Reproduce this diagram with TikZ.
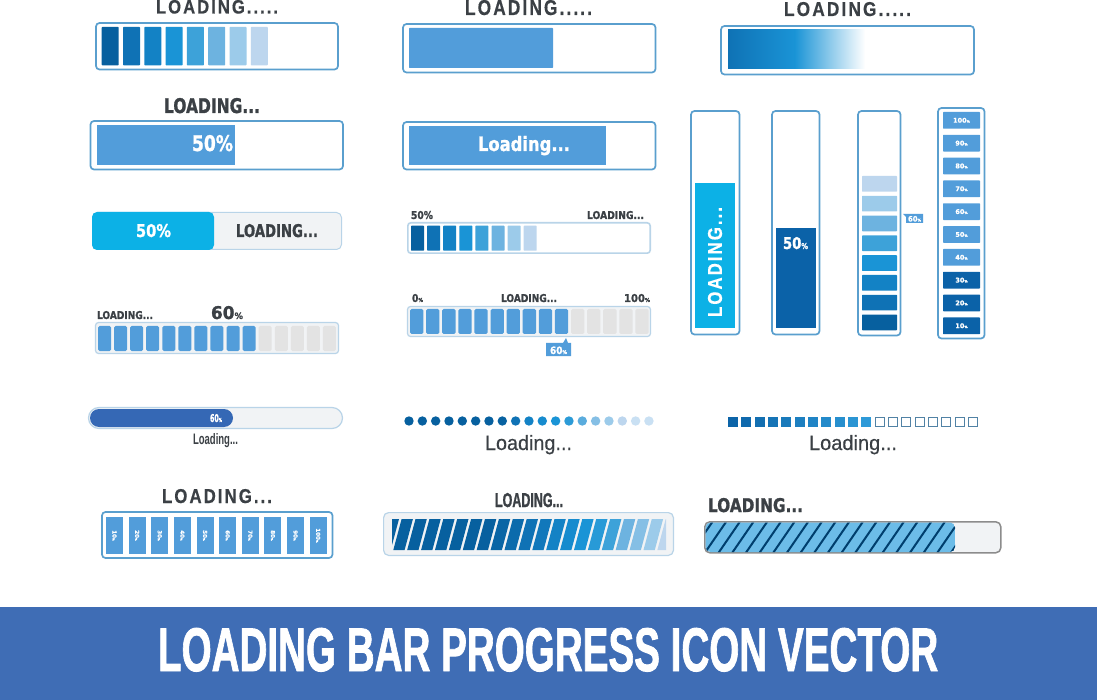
\documentclass[tikz,border=0pt]{standalone}
\usepackage{graphicx}
\usepackage{fontspec}
\setmainfont{Liberation Sans}
\newfontfamily\tracked[LetterSpace=12,BoldFeatures={FakeBold=.5}]{Liberation Sans}
\newfontfamily\blocky[BoldFeatures={FakeBold=1.2}]{DejaVu Sans}
\newfontfamily\headfont[BoldFeatures={FakeBold=1.6}]{Liberation Sans}
\newfontfamily\softfont[FakeBold=.4]{Liberation Sans}
\definecolor{ink}{HTML}{3B4045}
\definecolor{edge}{HTML}{5A9FCE}
\definecolor{lightedge}{HTML}{B9D4E8}
\definecolor{pale}{HTML}{F1F3F5}
\definecolor{midblue}{HTML}{529DDA}
\definecolor{cyanblue}{HTML}{0CB1E6}
\definecolor{deep}{HTML}{0B62A8}
\definecolor{royal}{HTML}{3568B5}
\definecolor{banner}{HTML}{3F6DB5}
\definecolor{seggrey}{HTML}{E3E3E3}
\definecolor{sa}{HTML}{07609F}
\definecolor{sb}{HTML}{0F72B5}
\definecolor{sc}{HTML}{1382C5}
\definecolor{sd}{HTML}{1A94D6}
\definecolor{se}{HTML}{3DA2D9}
\definecolor{sf}{HTML}{6DB3E0}
\definecolor{sg}{HTML}{9CCBEA}
\definecolor{sh}{HTML}{BDD6EE}
\definecolor{si}{HTML}{C9E0F3}
\definecolor{sqa}{HTML}{0C64A8}
\definecolor{sqb}{HTML}{2E9AD8}
\definecolor{hatchfill}{HTML}{6CBCE8}
\definecolor{hatchline}{HTML}{003F6E}
\newcommand\fitted[7]{\node[fitbox,text=#6] (#1) at (#2,#5) {\resizebox{\dimexpr#4pt-#2pt\relax}{\dimexpr#5pt-#3pt\relax}{#7}};}
\newcommand\blockload{{\blocky\bfseries LOADING...}}
\newcommand\trackdots{{\tracked\bfseries LOADING.....}}
\newcommand\tinypc{\scalebox{.5}{\%}}
\tikzset{
  fitbox/.style={inner sep=0pt,outer sep=0pt,anchor=base west},
  frameb/.style={draw=edge,line width=1.7pt,fill=white,rounded corners=3.5pt},
  framec/.style={draw=lightedge,line width=1.6pt,fill=white,rounded corners=3pt},
  framed/.style={draw=lightedge,line width=1.2pt,fill=pale,rounded corners=3pt},
  tinylabel/.style={inner sep=0pt,text=white,font=\blocky\bfseries\fontsize{6.5}{6.5}\selectfont},
}
\begin{document}
\begin{tikzpicture}[x=1pt,y=-1pt]
\useasboundingbox (0,0) rectangle (1097,700);
\fill[white] (0,0) rectangle (1097,700);

% ---- column 1
\fitted{t1}{156}{0}{278}{13.5}{ink}{\trackdots}
\draw[frameb] (96,23) rectangle (338,69.5);
\foreach \i/\c in {0/sa,1/sb,2/sc,3/sd,4/se,5/sf,6/sg,7/sh}
  \fill[\c,rounded corners=.6pt] ({101.7+21.3*\i},27) rectangle ++(17,38.3);

\fitted{t2}{164}{98}{260}{113}{ink}{\blockload}
\draw[frameb] (90.5,121) rectangle (343,169.5);
\fill[midblue] (97,125) rectangle (235,165);
\fitted{t3}{192}{135}{233}{151}{white}{{\blocky\bfseries 50\%}}

\fill[pale,draw=lightedge,line width=1pt,rounded corners=5pt] (92.5,212.5) rectangle (341.5,249.5);
\fill[cyanblue,rounded corners=5pt] (92,212) rectangle (214,250);
\fitted{t4}{136}{224}{171}{237}{white}{{\blocky\bfseries 50\%}}
\fitted{t5}{236}{224}{318}{237}{ink}{\blockload}

\fitted{t6}{97}{311}{153}{319}{ink}{\blockload}
\fitted{t7}{211}{306}{243}{319}{ink}{{\blocky\bfseries 60\tinypc}}
\draw[framed] (95.5,322.5) rectangle (338.5,353.5);
\foreach \i in {0,...,9}
  \fill[midblue,rounded corners=1.5pt] ({98+16.07*\i},326) rectangle ++(13,25);
\foreach \i in {10,...,14}
  \fill[seggrey,rounded corners=1.5pt] ({98+16.07*\i},326) rectangle ++(13,25);

\draw[draw=lightedge,line width=1.2pt,fill=pale,rounded corners=10.5pt] (88.5,407.5) rectangle (342.5,428.5);
\fill[royal,rounded corners=9pt] (90,409) rectangle (233,427);
\fitted{t8}{210}{414}{222}{422}{white}{{\blocky\bfseries 60\tinypc}}
\fitted{t9}{193}{433}{238}{444}{ink}{{\bfseries Loading...}}

\fitted{t10}{162}{489}{272}{503}{ink}{{\tracked\bfseries LOADING...}}
\draw[frameb] (102,512) rectangle (332.5,558);
\foreach \i [evaluate=\i as \lab using int(10*(\i+1))] in {0,...,9}{
  \fill[midblue] ({106+22.63*\i},517) rectangle ++(17,37);
  \node[tinylabel,rotate=-90,font=\blocky\bfseries\fontsize{5.5}{5.5}\selectfont] (cell\i) at ({114.5+22.63*\i},535.5) {\lab\tinypc};
}

% ---- column 2
\fitted{t11}{465}{0}{592}{15}{ink}{\trackdots}
\draw[frameb] (403,24) rectangle (655.5,72.5);
\fill[midblue,rounded corners=.6pt] (409,28) rectangle (553,68);

\draw[frameb] (403,122) rectangle (655.5,169.5);
\fill[midblue] (409,126) rectangle (606,165);
\fitted{t12}{478}{136}{570}{151}{white}{{\blocky\bfseries Loading...}}

\fitted{t13}{411}{211}{433}{219}{ink}{{\blocky\bfseries 50\%}}
\fitted{t14}{587}{211}{644}{219}{ink}{\blockload}
\draw[framec] (407.8,222.8) rectangle (650.2,253.2);
\foreach \i/\c in {0/sa,1/sb,2/sc,3/sd,4/se,5/sf,6/sg,7/sh}
  \fill[\c,rounded corners=.6pt] ({411+16.1*\i},225.7) rectangle ++(13,25);

\fitted{t15}{412}{294}{423}{302}{ink}{{\blocky\bfseries 0\tinypc}}
\fitted{t16}{501}{294}{557}{302}{ink}{\blockload}
\fitted{t17}{624}{294}{650}{302}{ink}{{\blocky\bfseries 100\tinypc}}
\draw[framed] (407.5,306.5) rectangle (650.5,336.5);
\foreach \i in {0,...,9}
  \fill[midblue,rounded corners=1.5pt] ({410+16.1*\i},309) rectangle ++(13.3,25);
\foreach \i in {10,...,14}
  \fill[seggrey,rounded corners=1.5pt] ({410+16.1*\i},309) rectangle ++(13.3,25);
\fill[midblue] (546,343) -- (563,343) -- (566,338) -- (568,343) -- (571,343) -- (571,356) -- (546,356) -- cycle;
\fitted{t18}{550}{346.5}{567}{354}{white}{{\blocky\bfseries 60\tinypc}}

\foreach \i/\c in {0/sa,1/sa,2/sa,3/sa,4/sa,5/sa,6/sa,7/sa!90!sb,8/sb,9/sc,10/sc!50!sd,11/sd,12/sd!50!se,13/se!40!sf,14/sf!50!sg,15/sg,16/sh,17/si,18/si}
  \fill[\c] ({409+13.33*\i},421) circle (4.7);
\fitted{t19}{485}{435}{572}{450}{ink}{{\softfont Loading...}}

\fitted{t20}{495}{493}{563}{507}{ink}{{\headfont\bfseries LOADING...}}
\draw[draw=lightedge,line width=1.2pt,fill=pale,rounded corners=5pt] (383.6,512.6) rectangle (673.4,555.4);
\begin{scope}
  \clip (392,519) rectangle (666,550);
  \foreach \i/\c in {0/sa,1/sa,2/sa,3/sa,4/sa,5/sa,6/sa,7/sa,8/sa!70!sb,9/sa!40!sb,10/sb,11/sb!60!sc,12/sc,13/sc!50!sd,14/sd,15/sd!60!se,16/se,17/sf,18/sf!50!sg,19/sg,20/sh}
    \fill[\c] ({379.4+13.9*\i},550) -- ++(11.3,0) -- ++(8.3,-31) -- ++(-11.3,0) -- cycle;
\end{scope}

% ---- column 3 top
\fitted{t21}{784}{2}{911}{16}{ink}{\trackdots}
\draw[frameb] (721,26) rectangle (974,74.5);
\shade[left color=sb,right color=sd] (728,30) rectangle (795,69);
\shade[left color=sd,right color=white] (794.8,30) rectangle (865,69);

% ---- vertical bars
\draw[frameb] (691,111) rectangle (739.5,334.5);
\fill[cyanblue] (695,183) rectangle (735,328);
\node[inner sep=0pt,rotate=90] (v1) at (715,262) {\resizebox{110pt}{14pt}{\color{white}\tracked\bfseries LOADING...}};

\draw[frameb] (772,111) rectangle (819.5,334.5);
\fill[deep] (776,228) rectangle (816,328);
\fitted{t22}{783}{237}{808}{249}{white}{{\blocky\bfseries 50\tinypc}}

\draw[frameb] (858,111) rectangle (900.5,335.5);
\foreach \i/\c in {0/sh,1/sg,2/sf,3/se,4/sd,5/sc,6/sb,7/sa}
  \fill[\c,rounded corners=.6pt] (862,{176+19.8*\i}) rectangle ++(35,15.7);
\fill[midblue] (906,214) -- (923,214) -- (923,223) -- (906,223) -- (906,217) -- (903,214) -- cycle;
\fitted{t23}{908}{216}{921}{221.5}{white}{{\blocky\bfseries 60\tinypc}}

\draw[frameb] (938,108) rectangle (984.5,338.5);
\foreach \i/\lab/\c in {0/100/midblue,1/90/midblue,2/80/midblue,3/70/midblue,4/60/midblue,5/50/midblue,6/40/midblue,7/30/deep,8/20/deep,9/10/deep}{
  \fill[\c,rounded corners=.6pt] (943,{112+22.83*\i}) rectangle ++(37,16.7);
  \node[tinylabel] (lev\i) at (961.5,{120.3+22.83*\i}) {\lab\tinypc};
}

% ---- column 3 lower
\foreach \i [evaluate=\i as \p using {100-10*\i}] in {0,...,10}
  \fill[sqa!\p!sqb] ({728+13.33*\i},417) rectangle ++(10,10);
\foreach \i in {11,...,18}
  \draw[draw=edge!70!ink,line width=.9pt,fill=white] ({728.5+13.33*\i},417.5) rectangle ++(9,9);
\fitted{t24}{809}{435}{897}{450}{ink}{{\softfont Loading...}}

\fitted{t25}{708}{498}{803}{512}{ink}{\blockload}
\draw[draw=gray!90,line width=1.5pt,fill=pale,rounded corners=5pt] (704.8,521.8) rectangle (1000.8,552.8);
\begin{scope}
  \clip[rounded corners=5pt] (705.5,522.5) -- (955,522.5) -- (955,552) -- (705.5,552) -- cycle;
  \fill[hatchfill] (704,521) rectangle (955,553);
  \foreach \i in {-1,...,18}
    \draw[hatchline,line width=2pt] ({704.7+13.67*\i},553) -- ++(22,-32);
\end{scope}

% ---- banner
\fill[banner] (0,607) rectangle (1097,700);
\fitted{title}{158}{628}{938}{671}{white}{{\headfont\bfseries LOADING BAR PROGRESS ICON VECTOR}}
\end{tikzpicture}
\end{document}
